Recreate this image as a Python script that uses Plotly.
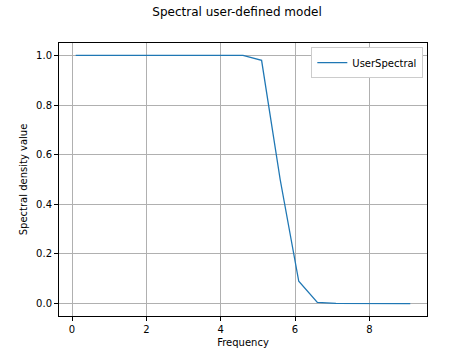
import plotly.graph_objects as go

freq = [0.1, 0.6, 1.1, 1.6, 2.1, 2.6, 3.1, 3.6, 4.1, 4.6, 5.1, 5.6, 6.1, 6.6, 7.1, 7.6, 8.1, 8.6, 9.1]
density = [1.0, 1.0, 1.0, 1.0, 1.0, 1.0, 1.0, 1.0, 1.0, 1.0, 0.98, 0.50, 0.09, 0.005, 0.0005, 0.0, 0.0, 0.0, 0.0]
x_ticks = [0, 2, 4, 6, 8]
y_ticks = [0.0, 0.2, 0.4, 0.6, 0.8, 1.0]

fig = go.Figure()
fig.add_trace(go.Scatter(x=freq, y=density, mode="lines", name="UserSpectral",
                         line=dict(color="#1f77b4", width=1.3)))

axis_common = dict(showline=True, linecolor="black", linewidth=1, mirror=True,
                   ticks="outside", ticklen=4, tickcolor="black", automargin=False,
                   showgrid=True, gridcolor="#b0b0b0", gridwidth=1, zeroline=False,
                   tickfont=dict(size=10, color="black"))

fig.update_layout(
    width=474, height=355,
    margin=dict(l=59, r=47, t=43, b=39),
    paper_bgcolor="white", plot_bgcolor="white",
    font=dict(family="DejaVu Sans", color="black"),
    title=dict(text="Spectral user-defined model", x=0.5, xanchor="center",
               y=1 - 12 / 355, yref="container", yanchor="middle", font=dict(size=12)),
    xaxis=dict(title=dict(text="Frequency", font=dict(size=10), standoff=4),
               range=[-0.35, 9.55], tickvals=x_ticks, **axis_common),
    yaxis=dict(title=dict(text="Spectral density value", font=dict(size=10), standoff=6),
               range=[-0.05, 1.05], tickvals=y_ticks,
               tickformat=".1f", **axis_common),
    showlegend=True,
    legend=dict(x=0.99, y=0.985, xanchor="right", yanchor="top",
                bgcolor="white", bordercolor="#cccccc", borderwidth=1,
                font=dict(size=10), itemwidth=30),
)

fig.write_html("out.html", config={"displayModeBar": False},
               post_script="document.body.style.margin='0';")
